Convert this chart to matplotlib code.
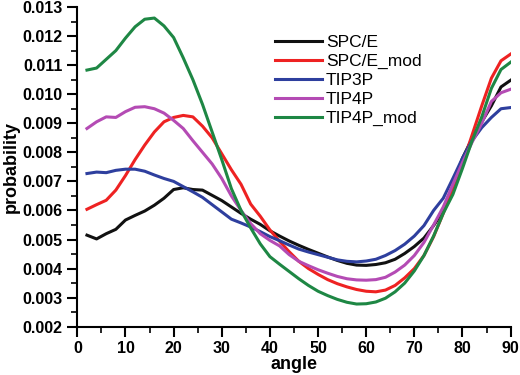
import matplotlib
matplotlib.use('Agg')
import matplotlib.pyplot as plt
from matplotlib.ticker import MultipleLocator, FormatStrFormatter

# angle grid (deg) and probability curves
angle = [2, 4, 6, 8, 10, 12, 14, 16, 18, 20, 22, 24, 26, 28, 30, 32, 34, 36, 38, 40,
         42, 44, 46, 48, 50, 52, 54, 56, 58, 60, 62, 64, 66, 68, 70, 72, 74, 76, 78, 80,
         82, 84, 86, 88, 90]

spce = [0.00515, 0.00502, 0.00520, 0.00535, 0.00567, 0.00583, 0.00598, 0.00618, 0.00642, 0.00672,
        0.00678, 0.00672, 0.00670, 0.00652, 0.00634, 0.00612, 0.00590, 0.00570, 0.00552, 0.00530,
        0.00512, 0.00495, 0.00480, 0.00466, 0.00453, 0.00440, 0.00428, 0.00418, 0.00412, 0.00411,
        0.00414, 0.00420, 0.00432, 0.00452, 0.00476, 0.00505, 0.00548, 0.00598, 0.00685, 0.00780,
        0.00848, 0.00905, 0.00960, 0.01025, 0.01048]

spce_mod = [0.00604, 0.00620, 0.00635, 0.00670, 0.00720, 0.00775, 0.00825, 0.00870, 0.00905, 0.00920,
            0.00927, 0.00922, 0.00890, 0.00850, 0.00795, 0.00740, 0.00690, 0.00622, 0.00580, 0.00533,
            0.00494, 0.00458, 0.00425, 0.00400, 0.00380, 0.00362, 0.00348, 0.00337, 0.00328, 0.00322,
            0.00320, 0.00326, 0.00342, 0.00368, 0.00400, 0.00445, 0.00510, 0.00590, 0.00680, 0.00760,
            0.00860, 0.00960, 0.01055, 0.01115, 0.01138]

tip3p = [0.00727, 0.00732, 0.00730, 0.00738, 0.00742, 0.00742, 0.00735, 0.00722, 0.00710, 0.00700,
         0.00682, 0.00664, 0.00645, 0.00620, 0.00595, 0.00570, 0.00557, 0.00543, 0.00527, 0.00510,
         0.00496, 0.00481, 0.00467, 0.00457, 0.00448, 0.00439, 0.00430, 0.00425, 0.00423, 0.00426,
         0.00432, 0.00445, 0.00462, 0.00484, 0.00512, 0.00548, 0.00600, 0.00642, 0.00710, 0.00780,
         0.00840, 0.00885, 0.00920, 0.00950, 0.00954]

tip4p = [0.00882, 0.00905, 0.00922, 0.00920, 0.00940, 0.00955, 0.00957, 0.00950, 0.00935, 0.00910,
         0.00882, 0.00840, 0.00800, 0.00760, 0.00710, 0.00650, 0.00600, 0.00555, 0.00520, 0.00497,
         0.00478, 0.00448, 0.00425, 0.00410, 0.00396, 0.00384, 0.00373, 0.00365, 0.00361, 0.00360,
         0.00362, 0.00370, 0.00388, 0.00412, 0.00445, 0.00490, 0.00550, 0.00612, 0.00690, 0.00765,
         0.00835, 0.00900, 0.00975, 0.01005, 0.01017]

tip4p_mod = [0.01083, 0.01090, 0.01120, 0.01150, 0.01193, 0.01232, 0.01258, 0.01262, 0.01235, 0.01195,
             0.01125, 0.01050, 0.00965, 0.00870, 0.00775, 0.00675, 0.00600, 0.00540, 0.00485, 0.00441,
             0.00415, 0.00390, 0.00365, 0.00342, 0.00322, 0.00307, 0.00294, 0.00284, 0.00278, 0.00279,
             0.00285, 0.00298, 0.00320, 0.00350, 0.00392, 0.00445, 0.00512, 0.00590, 0.00655, 0.00745,
             0.00840, 0.00922, 0.01020, 0.01085, 0.01110]

series = [("SPC/E", spce, "#111111"),
          ("SPC/E_mod", spce_mod, "#ee2222"),
          ("TIP3P", tip3p, "#2e3f9e"),
          ("TIP4P", tip4p, "#b44bb4"),
          ("TIP4P_mod", tip4p_mod, "#1e8744")]

plt.rcParams['font.family'] = ['Liberation Sans', 'DejaVu Sans']

fig = plt.figure(figsize=(5.2, 3.75), dpi=100)
ax = fig.add_axes([0.1487, 0.1288, 0.8333, 0.8525])

for name, vals, col in series:
    ax.plot(angle, vals, color=col, lw=2.2, label=name)

ax.set_xlim(0, 90)
ax.set_ylim(0.002, 0.013)
ax.xaxis.set_major_locator(MultipleLocator(10))
ax.xaxis.set_minor_locator(MultipleLocator(5))
ax.yaxis.set_major_locator(MultipleLocator(0.001))
ax.yaxis.set_minor_locator(MultipleLocator(0.0005))
ax.yaxis.set_major_formatter(FormatStrFormatter('%.3f'))

for s in ['top', 'right']:
    ax.spines[s].set_visible(False)
for s in ['left', 'bottom']:
    ax.spines[s].set_linewidth(1.5)

ax.tick_params(which='major', direction='out', length=7, width=1.5, labelsize=11.5)
ax.tick_params(which='minor', direction='out', length=4, width=1.2)
for lab in ax.get_xticklabels() + ax.get_yticklabels():
    lab.set_fontweight('bold')

ax.set_xlabel("angle", fontsize=13, fontweight='bold', labelpad=0)
ax.set_ylabel("probability", fontsize=13, fontweight='bold', labelpad=2)

ax.legend(loc='upper left', bbox_to_anchor=(0.456, 0.912), frameon=False,
          fontsize=12.5, handlelength=2.7, handletextpad=0.23, labelspacing=0.22,
          borderaxespad=0, borderpad=0)

fig.savefig("out.png", dpi=100)
